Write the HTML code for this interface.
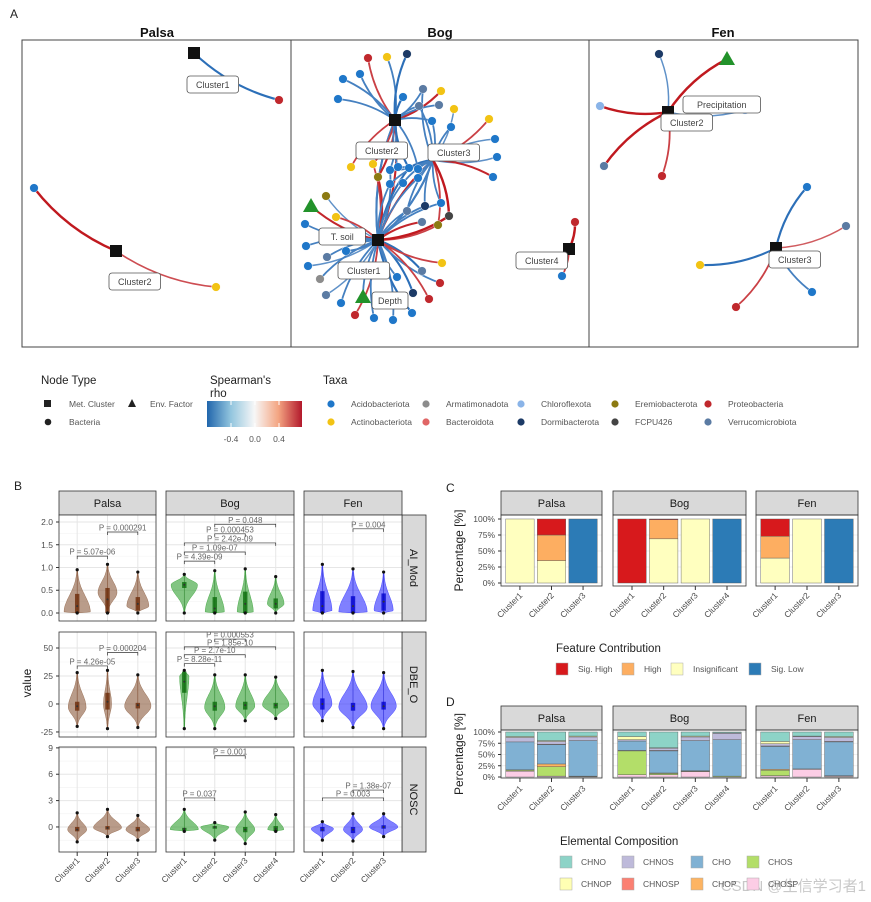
<!DOCTYPE html>
<html><head><meta charset="utf-8">
<style>
html,body{margin:0;padding:0;background:#fff;}
svg{display:block;font-family:"Liberation Sans","Noto Sans CJK SC",sans-serif;}
</style></head>
<body>
<svg id="chart" width="871" height="902" viewBox="0 0 871 902" xmlns="http://www.w3.org/2000/svg">
<defs>
<linearGradient id="rhoGrad" x1="0" x2="1" y1="0" y2="0">
<stop offset="0" stop-color="#2166ac"/><stop offset="0.25" stop-color="#92c5de"/><stop offset="0.5" stop-color="#f7f7f7"/><stop offset="0.75" stop-color="#f4a582"/><stop offset="1" stop-color="#b2182b"/>
</linearGradient>
</defs>
<text x="10" y="18" font-size="12" fill="#222">A</text>
<text x="14" y="490" font-size="12" fill="#222">B</text>
<text x="446" y="492" font-size="12" fill="#222">C</text>
<text x="446" y="706" font-size="12" fill="#222">D</text>
<text x="866" y="891" font-size="15" fill="#bbb" text-anchor="end" opacity="0.8">CSDN @生信学习者1</text>
</svg>
<script>
const NS='http://www.w3.org/2000/svg';
const svg=document.getElementById('chart');
function mk(tag,a,p){const e=document.createElementNS(NS,tag);for(const k in a)e.setAttribute(k,a[k]);(p||svg).appendChild(e);return e;}
function tx(x,y,s,a,p){const e=mk('text',Object.assign({x:x,y:y},a||{}),p);e.textContent=s;return e;}

// ===== Panel A data =====
const taxaNames=['Acidobacteriota','Actinobacteriota','Armatimonadota','Bacteroidota','Chloroflexota','Dormibacterota','Eremiobacterota','FCPU426','Proteobacteria','Verrucomicrobiota'];
const taxaColors=['#1f77c9','#f2c314','#8c8c8c','#e06666','#8ab4e8','#1c3a66','#8c7a12','#444444','#c0282d','#5b7ba3'];
const hubNames=['P1','P2','B1','B2','B3','B4','F2','F3'];
const hubX=[194,116,378,395,433,569,668,776];
const hubY=[53,251,240,120,160,249,112,248];
const hubShown=[1,1,1,1,0,1,1,1];
// nodes: x, y, taxa index, hub list, rho
const nodeX=[279,34,216, 368,387,407,343,360,338,403,423,441,419,439,454,432,451,489,495,497,493, 351,373,378,390,398,409,418,390,403,418, 326,336,305,306,308,327,346,320,326,341,355,374,393,412,413,397,422,440,429,442,407,425,441,422,438,449, 575,562, 659,600,604,662,745, 807,846,700,812,736];
const nodeY=[100,188,287, 58,57,54,79,74,99,97,89,91,106,105,109,121,127,119,139,157,177, 167,164,177,170,167,168,169,184,183,178, 196,217,224,246,266,257,251,279,295,303,315,318,320,313,293,277,271,283,299,263,211,206,203,222,225,216, 222,276, 54,106,166,176,110, 187,226,265,292,307];
const nodeTaxa=[8,0,1, 8,1,5,0,0,0,0,9,1,9,9,1,0,0,1,0,0,0, 1,1,6,0,0,0,0,0,0,0, 6,1,0,0,0,9,0,2,9,0,8,0,0,0,5,0,9,8,8,1,9,5,0,9,6,7, 8,0, 5,4,9,8,4, 0,9,1,0,8];
const nodeHubs=['0','1','1', '3','3','3','3','3','3','3','34','3','34','3','4','34','4','4','4','4','4', '3','32','32','324','34','324','34','24','24','24', '2','2','2','2','2','2','2','2','2','2','2','2','2','2','2','2','2','2','2','2','24','24','24','2','24','24', '5','5', '6','6','6','6','6', '7','7','7','7','7'];
const nodeRho=[-0.5,0.6,0.35, 0.4,-0.4,-0.5,-0.4,-0.4,-0.4,-0.5,-0.4,0.5,-0.4,-0.4,-0.3,-0.4,-0.4,0.4,-0.3,-0.3,0.5, 0.4,0.4,0.5,-0.4,-0.4,-0.5,-0.4,-0.4,-0.4,-0.4, -0.3,0.4,-0.4,-0.4,-0.3,-0.4,-0.4,-0.4,-0.3,-0.4,0.4,-0.4,-0.4,-0.5,-0.5,-0.4,-0.5,-0.4,0.4,0.4,-0.4,-0.4,-0.4,0.5,0.4,0.6, 0.6,0.4, -0.3,0.6,0.6,0.4,-0.3, -0.5,0.3,-0.5,-0.4,0.4];
// hub-to-hub edges (cluster 1 <-> 2/3 in Bog)
const hubEdgeA=[2,2,2,2,2,2];
const hubEdgeB=[3,3,3,4,4,4];
const hubEdgeRho=[-0.5,0.5,-0.4,-0.5,0.5,-0.4];
// environmental factors
const envNames=['T. soil','Depth','Precipitation'];
const envX=[311,363,727];
const envY=[206,297,59];
const envHub=[2,2,6];
const envRho=[0.5,-0.4,0.6];

function lerpC(a,b,t){const pa=[1,3,5].map(i=>parseInt(a.substr(i,2),16)),pb=[1,3,5].map(i=>parseInt(b.substr(i,2),16));return 'rgb('+pa.map((v,i)=>Math.round(v+(pb[i]-v)*t)).join(',')+')';}
function rhoColor(r){const t=Math.min(1,Math.abs(r)/0.55);const k=0.35+0.65*t;return r<0?lerpC('#f7f7f7','#1f66b4',k):lerpC('#f7f7f7','#c0191f',k);}
let edgeCount=0;
function drawEdge(x1,y1,x2,y2,rho){
  const dx=x2-x1,dy=y2-y1;const c=0.13*(edgeCount++%2?1:-1);
  const cx=(x1+x2)/2-dy*c,cy=(y1+y2)/2+dx*c;
  const p=mk('path',{d:`M${x1},${y1} Q${cx},${cy} ${x2},${y2}`,fill:'none',stroke:rhoColor(rho),'stroke-width':(0.6+Math.abs(rho)*3).toFixed(2)});
  
  
}
const frameA=mk('rect',{x:22,y:40,width:836,height:307,fill:'none',stroke:'#444','stroke-width':1});


[291,589].forEach(x=>{const l=mk('line',{x1:x,x2:x,y1:40,y2:347,stroke:'#444'});

});
const siteTitles=['Palsa','Bog','Fen'];const siteTitleX=[157,440,723];
siteTitles.forEach((s,i)=>{const t=tx(siteTitleX[i],37,s,{'font-size':13,'font-weight':'bold','text-anchor':'middle',fill:'#111'});

});
for(let i=0;i<hubEdgeA.length;i++){const a=hubEdgeA[i],b=hubEdgeB[i];drawEdge(hubX[a],hubY[a],hubX[b],hubY[b],hubEdgeRho[i]);}
for(let i=0;i<envX.length;i++){const h=envHub[i];drawEdge(hubX[h],hubY[h],envX[i],envY[i],envRho[i]);}
for(let i=0;i<nodeX.length;i++){for(const ch of nodeHubs[i]){const h=+ch;drawEdge(hubX[h],hubY[h],nodeX[i],nodeY[i],nodeRho[i]);}}
for(let i=0;i<nodeX.length;i++){const c=mk('circle',{cx:nodeX[i],cy:nodeY[i],r:4.3,fill:taxaColors[nodeTaxa[i]],stroke:'#fff','stroke-width':0.4});

}
for(let i=0;i<envX.length;i++){const x=envX[i],y=envY[i];const t=mk('polygon',{points:`${x},${y-8} ${x-8},${y+6} ${x+8},${y+6}`,fill:'#22922a'});

}
for(let i=0;i<hubX.length;i++){if(!hubShown[i])continue;const r=mk('rect',{x:hubX[i]-6,y:hubY[i]-6,width:12,height:12,fill:'#111'});

}
const labText=['Cluster1','Cluster2','Cluster2','Cluster3','T. soil','Cluster1','Depth','Cluster4','Precipitation','Cluster2','Cluster3'];
const labX=[187,109,356,428,319,338,372,516,683,661,769];
const labY=[76,273,142,144,228,262,292,252,96,114,251];
labText.forEach((s,i)=>{const w=s.length*5.2+10;const g=mk('g',{});


mk('rect',{x:labX[i],y:labY[i],width:w,height:17,rx:3,fill:'#fff',stroke:'#555','stroke-width':0.8},g);
tx(labX[i]+w/2,labY[i]+12,s,{'font-size':9,'text-anchor':'middle',fill:'#444'},g);});

(function(){
const g=mk('g',{});


tx(41,384,'Node Type',{'font-size':11.5,fill:'#222'},g);
mk('rect',{x:44,y:400,width:7,height:7,fill:'#222'},g);tx(69,407,'Met. Cluster',{'font-size':8.5,fill:'#555'},g);
mk('polygon',{points:'132,399 128,407 136,407',fill:'#222'},g);tx(150,407,'Env. Factor',{'font-size':8.5,fill:'#555'},g);
mk('circle',{cx:48,cy:422,r:3.3,fill:'#222'},g);tx(69,425,'Bacteria',{'font-size':8.5,fill:'#555'},g);
tx(210,384,"Spearman's",{'font-size':11.5,fill:'#222'},g);tx(210,397,'rho',{'font-size':11.5,fill:'#222'},g);
mk('rect',{x:207,y:401,width:95,height:26,fill:'url(#rhoGrad)'},g);
[[231,'-0.4'],[255,'0.0'],[279,'0.4']].forEach(d=>{mk('line',{x1:d[0],x2:d[0],y1:401,y2:405,stroke:'#fff'},g);mk('line',{x1:d[0],x2:d[0],y1:423,y2:427,stroke:'#fff'},g);tx(d[0],442,d[1],{'font-size':8.5,fill:'#555','text-anchor':'middle'},g);});
tx(323,384,'Taxa',{'font-size':11.5,fill:'#222'},g);
const colX=[331,426,521,615,708];
taxaNames.forEach((n,i)=>{const col=Math.floor(i/2),row=i%2;const cx=colX[col],cy=404+row*18;
const c=mk('circle',{cx:cx,cy:cy,r:3.6,fill:taxaColors[i]},g);


tx(cx+20,cy+3,n,{'font-size':8.5,fill:'#555'},g);});
})();

// ===== Panel B data =====
const bSites=['Palsa','Bog','Fen'];
const bClusterCount=[3,4,3];
const bRowNames=['AI_Mod','DBE_O','NOSC'];
const bRowTicks=[[0,0.5,1,1.5,2],[-25,0,25,50],[0,3,6,9]];
const bRowTickLabels=[['0.0','0.5','1.0','1.5','2.0'],['-25','0','25','50'],['0','3','6','9']];
const bRowMinor=[[0.25,0.75,1.25,1.75],[-12.5,12.5,37.5],[-1.5,1.5,4.5,7.5]];
const bRowDomain=[[-0.176,2.154],[-29.5,64.3],[-2.85,9.1]];
const vMin=[[[0,0,0],[0,0,0,0],[0,0,0]],[[-20,-22,-21],[-22,-22,-15,-13],[-15,-21,-22]],[[-1.7,-1.1,-1.5],[-0.5,-1.5,-1.9,-0.5],[-1.5,-1.6,-1.1]]];
const vMax=[[[0.95,1.07,0.9],[0.85,0.93,0.97,0.8],[1.07,0.97,0.9]],[[28,30,26],[30,26,26,24],[30,29,28]],[[1.6,2,1.3],[2,0.5,1.7,1.4],[0.6,1.5,1.5]]];
const vMode=[[[0.02,0.45,0.15],[0.62,0.02,0.02,0.2],[0.05,0.02,0.05]],[[-3,0,-2],[25,-3,-2,-1],[0,-3,-2]],[[-0.3,-0.1,-0.3],[-0.3,0,-0.3,-0.3],[-0.2,-0.3,0]]];
const vWidth=[[[0.42,0.3,0.35],[0.42,0.3,0.25,0.26],[0.3,0.45,0.3]],[[0.28,0.12,0.42],[0.14,0.32,0.3,0.42],[0.3,0.45,0.4]],[[0.3,0.45,0.38],[0.45,0.45,0.3,0.25],[0.35,0.3,0.45]]];
const vQ1=[[[0,0,0.05],[0.55,0,0,0.1],[0,0,0.05]],[[-6,-5,-4],[10,-6,-5,-4],[-5,-6,-5]],[[-0.5,-0.3,-0.5],[-0.4,-0.2,-0.6,-0.5],[-0.5,-0.7,-0.2]]];
const vMed=[[[0.15,0.3,0.2],[0.62,0.1,0.2,0.2],[0.15,0.15,0.25]],[[-2,2,-1],[20,-2,-1,-1],[0,-2,-2]],[[-0.3,-0.1,-0.3],[-0.2,0,-0.3,-0.2],[-0.3,-0.3,0]]];
const vQ3=[[[0.42,0.55,0.35],[0.68,0.35,0.47,0.32],[0.48,0.37,0.43]],[[2,10,1],[29,2,2,1],[5,1,2]],[[0,0.1,0],[-0.1,0.1,0,0.1],[0,0,0.2]]];
const bFill=['#8b5a3c','#2e9e2e','#2b2bff'];
const bBox=['#6b2a08','#0a6a0a','#0000cc'];
const sigRow=[0,0,0,0,0,0,0,0, 1,1,1,1,1,1, 2,2,2,2];
const sigSite=[0,0,1,1,1,1,1,2, 0,0,1,1,1,1, 1,1,2,2];
const sigI=[0,1,0,0,0,1,1,1, 0,1,0,0,0,1, 0,1,0,1];
const sigJ=[1,2,1,2,3,2,3,2, 1,2,1,2,3,2, 1,2,2,2];
const sigY=[1.25,1.78,1.14,1.34,1.54,1.74,1.95,1.85, 34,46,36,44,51,58, 3.3,8.1,3.3,4.2];
const sigLabel=['P = 5.07e-06','P = 0.000291','P = 4.39e-09','P = 1.09e-07','P = 2.42e-09','P = 0.000453','P = 0.048','P = 0.004','P = 4.26e-05','P = 0.000204','P = 8.28e-11','P = 2.7e-10','P = 1.85e-10','P = 0.000553','P = 0.037','P = 0.001','P = 0.003','P = 1.38e-07'];

const bPanelX=[[59,156],[166,294],[304,402]];
const bRowY=[[515,621],[632,737],[747,852]];
function bX(s,i){const [a,b]=bPanelX[s];const st=(b-a)/(bClusterCount[s]-1+1.2);return a+st*(0.6+i);}
function bStep(s){const [a,b]=bPanelX[s];return (b-a)/(bClusterCount[s]-1+1.2);}
function bY(r,v){const [d0,d1]=bRowDomain[r];const [y0,y1]=bRowY[r];return y1-(v-d0)/(d1-d0)*(y1-y0);}

(function(){
bSites.forEach((s,si)=>{const [a,b]=bPanelX[si];
const r=mk('rect',{x:a,y:491,width:b-a,height:24,fill:'#d9d9d9',stroke:'#333','stroke-width':0.8});


tx((a+b)/2,507,s,{'font-size':11,'text-anchor':'middle',fill:'#1a1a1a'});});
bRowNames.forEach((n,ri)=>{const [y0,y1]=bRowY[ri];
const r=mk('rect',{x:402,y:y0,width:24,height:y1-y0,fill:'#d9d9d9',stroke:'#333','stroke-width':0.8});


tx(0,0,n,{'font-size':11,'text-anchor':'middle',fill:'#1a1a1a',transform:`translate(410,${(y0+y1)/2}) rotate(90)`});});
const yt=tx(0,0,'value',{'font-size':12,'text-anchor':'middle',fill:'#222',transform:'translate(31,683) rotate(-90)'});


for(let ri=0;ri<3;ri++){const [y0,y1]=bRowY[ri];
 bRowTicks[ri].forEach((t,k)=>{const y=bY(ri,t);mk('line',{x1:56,x2:59,y1:y,y2:y,stroke:'#333'});tx(53,y+3,bRowTickLabels[ri][k],{'font-size':8.5,fill:'#4d4d4d','text-anchor':'end'});});
 for(let si=0;si<3;si++){const [a,b]=bPanelX[si];
  const g=mk('g',{});
  
  
  mk('rect',{x:a,y:y0,width:b-a,height:y1-y0,fill:'#fff'},g);
  bRowMinor[ri].forEach(t=>{const y=bY(ri,t);mk('line',{x1:a,x2:b,y1:y,y2:y,stroke:'#f2f2f2','stroke-width':0.6},g);});
  bRowTicks[ri].forEach(t=>{const y=bY(ri,t);mk('line',{x1:a,x2:b,y1:y,y2:y,stroke:'#e6e6e6','stroke-width':1},g);});
  for(let ci=0;ci<bClusterCount[si];ci++){const x=bX(si,ci);mk('line',{x1:x,x2:x,y1:y0,y2:y1,stroke:'#e6e6e6','stroke-width':1},g);}
  for(let ci=0;ci<bClusterCount[si];ci++){
   const x=bX(si,ci),st=bStep(si);
   const mn=vMin[ri][si][ci],mx=vMax[ri][si][ci],md=vMode[ri][si][ci],W=vWidth[ri][si][ci]*st;
   const N=40,L=[],R=[];
   for(let k=0;k<=N;k++){const v=mn+(mx-mn)*k/N;let u;
    if(v<md){u=(md-v)/Math.max(md-mn,1e-6);}else{u=(v-md)/Math.max(mx-md,1e-6);}
    u=Math.min(1,u);const w=W*Math.exp(-2.5*u*u)*(1-u*u)+0.4;const y=bY(ri,v);
    L.push([x-w,y]);R.push([x+w,y]);}
   const pts=L.concat(R.reverse()).map(p=>p[0].toFixed(1)+','+p[1].toFixed(1)).join(' ');
   const vp=mk('polygon',{points:pts,fill:bFill[si],'fill-opacity':0.6,stroke:bFill[si],'stroke-opacity':0.8,'stroke-width':0.5},g);
   
   
   mk('line',{x1:x,x2:x,y1:bY(ri,mn),y2:bY(ri,mx),stroke:bBox[si],'stroke-width':0.6,opacity:0.6},g);
   const bx=mk('rect',{x:x-2.2,y:bY(ri,vQ3[ri][si][ci]),width:4.4,height:Math.max(1,bY(ri,vQ1[ri][si][ci])-bY(ri,vQ3[ri][si][ci])),fill:bBox[si],opacity:0.8},g);
   
   
   mk('circle',{cx:x,cy:bY(ri,vMed[ri][si][ci]),r:1,fill:'#333'},g);
   [mn,mx].forEach(v=>mk('circle',{cx:x,cy:bY(ri,v),r:1.6,fill:'#111'},g));
  }
  mk('rect',{x:a,y:y0,width:b-a,height:y1-y0,fill:'none',stroke:'#333','stroke-width':0.8},g);
 }
}
for(let k=0;k<sigRow.length;k++){const r=sigRow[k],s=sigSite[k];const x1=bX(s,sigI[k]),x2=bX(s,sigJ[k]),y=bY(r,sigY[k]);
 const g=mk('g',{});
 
 
 mk('path',{d:`M${x1},${y+3} V${y} H${x2} V${y+3}`,fill:'none',stroke:'#333','stroke-width':0.7},g);
 tx((x1+x2)/2,y-1.5,sigLabel[k],{'font-size':8,fill:'#666','text-anchor':'middle'},g);}
for(let si=0;si<3;si++)for(let ci=0;ci<bClusterCount[si];ci++){const x=bX(si,ci);
 mk('line',{x1:x,x2:x,y1:852,y2:856,stroke:'#333'});
 tx(0,0,'Cluster'+(ci+1),{'font-size':8.5,fill:'#4d4d4d','text-anchor':'end',transform:`translate(${x+3},${861}) rotate(-45)`});}
})();

// ===== Panel C data =====
const cCategories=['Sig. High','High','Insignificant','Sig. Low'];
const cColors=['#d7191c','#fdae61','#ffffbf','#2c7bb6'];
const cValues=[[[0,0,100,0],[25,40,35,0],[0,0,0,100]],[[100,0,0,0],[1,30,69,0],[0,0,100,0],[0,0,0,100]],[[27,34,39,0],[0,0,100,0],[0,0,0,100]]];
// ===== Panel D data =====
const dCategories=['CHNO','CHNOS','CHO','CHOS','CHNOP','CHNOSP','CHOP','CHOSP'];
const dColors=['#8dd3c7','#bebada','#80b1d3','#b3de69','#ffffb3','#fb8072','#fdb462','#fccde5'];
const dStackOrder=[7,3,6,2,5,1,4,0];
const dValues=[
 [[10,10,62,2,2,0,1,13],[19,6,43,21,2,1,6,2],[9,8,79,1,2,0,0,1]],
 [[10,3,21,53,7,0,1,5],[35,5,49,3,1,1,1,5],[9,8,67,1,2,0,1,12],[2,14,81,2,1,0,0,0]],
 [[21,5,51,12,5,1,2,3],[9,7,65,1,1,0,0,17],[10,9,75,1,2,1,0,2]]];

const cdPanelX=[[501,602],[613,746],[756,858]];
function cdX(s,i){const [a,b]=cdPanelX[s];const st=(b-a)/(bClusterCount[s]-1+1.2);return a+st*(0.6+i);}
function cdStep(s){const [a,b]=cdPanelX[s];return (b-a)/(bClusterCount[s]-1+1.2);}

function stackPanel(name,stripY,top,bottom,y0v,y100v,values,colors,order,labY){
 const yS=v=>y0v-(v/100)*(y0v-y100v);
 bSites.forEach((s,si)=>{const [a,b]=cdPanelX[si];
  const st=mk('rect',{x:a,y:stripY,width:b-a,height:top-stripY,fill:'#d9d9d9',stroke:'#333','stroke-width':0.8});
  
  
  tx((a+b)/2,stripY+16,s,{'font-size':11,'text-anchor':'middle',fill:'#1a1a1a'});
  const g=mk('g',{});
  
  
  [0,25,50,75,100].forEach(v=>mk('line',{x1:a,x2:b,y1:yS(v),y2:yS(v),stroke:'#ebebeb','stroke-width':0.8},g));
  for(let ci=0;ci<bClusterCount[si];ci++){const x=cdX(si,ci),w=cdStep(si)*0.9;let cum=0;
   order.forEach(k=>{const v=values[si][ci][k];if(v<=0)return;
    const r=mk('rect',{x:x-w/2,y:yS(cum+v),width:w,height:yS(cum)-yS(cum+v),fill:colors[k],stroke:'#555','stroke-width':0.4},g);
    
    
    cum+=v;});
   mk('line',{x1:x,x2:x,y1:bottom,y2:bottom+4,stroke:'#333'});
   tx(0,0,'Cluster'+(ci+1),{'font-size':8.5,fill:'#4d4d4d','text-anchor':'end',transform:`translate(${x+3},${labY}) rotate(-45)`});
  }
  mk('rect',{x:a,y:top,width:b-a,height:bottom-top,fill:'none',stroke:'#333','stroke-width':0.8},g);
 });
 [0,25,50,75,100].forEach(v=>{mk('line',{x1:498,x2:501,y1:yS(v),y2:yS(v),stroke:'#333'});tx(495,yS(v)+3,v+'%',{'font-size':8.5,fill:'#4d4d4d','text-anchor':'end'});});
 const t=tx(0,0,'Percentage [%]',{'font-size':12,'text-anchor':'middle',fill:'#222',transform:`translate(463,${(top+bottom)/2}) rotate(-90)`});
 
 
}
stackPanel('contribution',491,515,586,583,519,cValues,cColors,[2,3,1,0],596);
stackPanel('composition',706,730,778,777,732,dValues,dColors,dStackOrder,789);

(function(){
const g=mk('g',{});


tx(556,652,'Feature Contribution',{'font-size':11.5,fill:'#222'},g);
const kx=[556,622,671,749];
cCategories.forEach((c,i)=>{mk('rect',{x:kx[i],y:663,width:12,height:12,fill:cColors[i],stroke:'#aaa','stroke-width':0.5},g);tx(kx[i]+22,672,c,{'font-size':8.5,fill:'#555'},g);});
const g2=mk('g',{});


tx(560,845,'Elemental Composition',{'font-size':11.5,fill:'#222'},g2);
const dx=[560,622,691,747];
dCategories.forEach((c,i)=>{const col=i%4,row=Math.floor(i/4);const x=dx[col],y=856+row*22;
mk('rect',{x:x,y:y,width:12,height:12,fill:dColors[i],stroke:'#aaa','stroke-width':0.5},g2);tx(x+21,y+9,c,{'font-size':8.5,fill:'#555'},g2);});
})();
</script>
</body></html>
